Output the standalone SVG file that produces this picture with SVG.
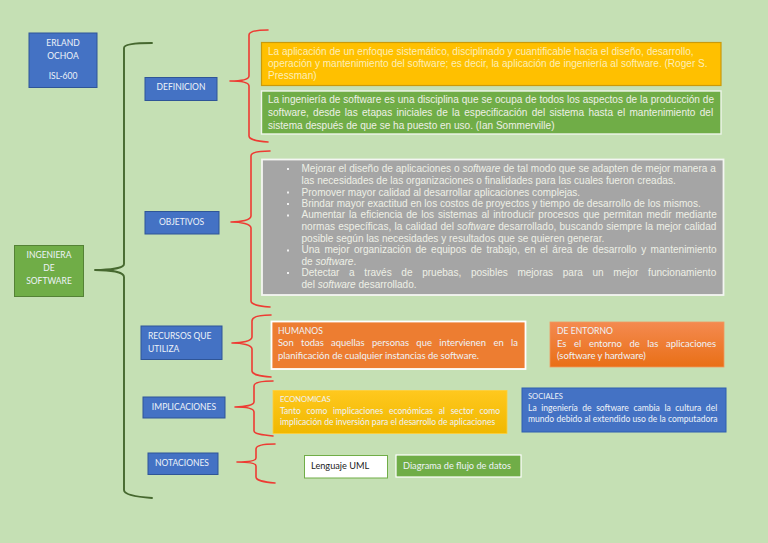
<svg xmlns="http://www.w3.org/2000/svg" width="768" height="543" viewBox="0 0 768 543">
<style>
.a{font-family:"Liberation Sans",Arial,sans-serif;font-size:10.05px;fill:#eef0e6}
.y{fill:#fdeeb8}
.l{font-family:Lato,"Open Sans",sans-serif;fill:#eef3f8}
.n{font-size:8.5px;text-anchor:middle}
.s{font-size:9.45px}
.t{font-size:8.55px}
.h{font-size:8.65px}
.k{font-size:7.6px}
.b{fill:none;stroke-width:1.6px;stroke-linecap:round;stroke-linejoin:round}
.g{stroke:#46682f;stroke-width:1.9px}
.r{stroke:#ee3b33}
.blue{fill:#4472c4;stroke:#2f5597;stroke-width:1}
.it{font-style:italic}
</style>
<defs>
<linearGradient id="go" x1="0" y1="0" x2="0" y2="1"><stop offset="0" stop-color="#f48a50"/><stop offset="1" stop-color="#e96f16"/></linearGradient>
<linearGradient id="gy" x1="0" y1="0" x2="0" y2="1"><stop offset="0" stop-color="#ffc81e"/><stop offset="1" stop-color="#f0b800"/></linearGradient>
</defs>
<rect width="768" height="543" fill="#c5e0b4"/>
<g id="connectors">
<path class="b g" d="M152 43C138 43 124 44 124 48V264C124 268 110 270 95 270C110 270 124 272 124 277V490C124 495 138 497 152 498"/>
<path class="b r" d="M268 30C258 30 249 31 249 35V76C249 80 240 81 230 81C240 81 249 82 249 86V136C249 140 258 141 268 142"/>
<path class="b r" d="M270 151C260 151 251 152 251 156V216C251 220 241 222 231 222C241 222 251 224 251 228V301C251 305 260 306 270 307"/>
<path class="b r" d="M271 315C261 315 252 316 252 321V337C252 341 242 343 232 343C242 343 252 345 252 349V371C252 375 261 376 271 377"/>
<path class="b r" d="M273 381C263 381 254 382 254 386V402C254 405 245 407 235 407C245 407 254 408 254 412V431C254 434 263 435 273 436"/>
<path class="b r" d="M275 444C265 444 256 445 256 449V458C256 461 246 462 237 462C246 462 256 463 256 466V477C256 481 265 482 275 483"/>
</g>
<g id="erland"><rect class="blue" x="29" y="33" width="68" height="54.500"/>
<text class="l n" x="63" y="45.500">ERLAND</text><text class="l n" x="63" y="59">OCHOA</text><text class="l n" x="63" y="79">ISL-600</text></g>
<g id="ingenieria"><rect x="14.500" y="245.500" width="69" height="51" fill="#70ad47" stroke="#548235"/>
<text class="l n" x="49" y="258">INGENIERA</text><text class="l n" x="49" y="271">DE</text><text class="l n" x="49" y="284">SOFTWARE</text></g>
<g id="definicion"><rect class="blue" x="145" y="77.500" width="72" height="23"/><text class="l n" x="181" y="90">DEFINICION</text></g>
<g id="objetivos"><rect class="blue" x="145" y="211.500" width="74" height="22.500"/><text class="l n" x="181.500" y="224.500">OBJETIVOS</text></g>
<g id="recursos"><rect class="blue" x="141" y="326" width="81" height="33.500"/><text class="l" font-size="8.500" x="148" y="339">RECURSOS QUE</text><text class="l" font-size="8.500" x="148" y="352">UTILIZA</text></g>
<g id="implicaciones"><rect class="blue" x="143" y="397" width="82" height="21"/><text class="l n" x="184" y="410">IMPLICACIONES</text></g>
<g id="notaciones"><rect class="blue" x="148" y="453" width="70" height="21.500"/><text class="l n" x="182" y="466">NOTACIONES</text></g>
<g id="def1"><rect x="261.500" y="42.500" width="459.500" height="43" fill="#ffc000" stroke="#c99a0c" stroke-width="1.200"/>
<text class="a y" x="268" y="54.500">La aplicación de un enfoque sistemático, disciplinado y cuantificable hacia el diseño, desarrollo,</text>
<text class="a y" x="268" y="67">operación y mantenimiento del software; es decir, la aplicación de ingeniería al software. (Roger S.</text>
<text class="a y" x="268" y="79">Pressman)</text></g>
<g id="def2"><rect x="261.500" y="91" width="459.500" height="43" fill="#70ad47" stroke="#eef5ea" stroke-width="1.400"/>
<text class="a" x="268" y="103" word-spacing="0.150">La ingeniería de software es una disciplina que se ocupa de todos los aspectos de la producción de</text>
<text class="a" x="268" y="116" word-spacing="1.550">software, desde las etapas iniciales de la especificación del sistema hasta el mantenimiento del</text>
<text class="a" x="268" y="128.500">sistema después de que se ha puesto en uso. (Ian Sommerville)</text></g>
<g id="obj"><rect x="262" y="159.500" width="461.500" height="135.500" fill="#a5a5a5" stroke="#f4f6f2" stroke-width="1.800"/>
<text class="a" x="301.500" y="172" word-spacing="0.100">Mejorar el diseño de aplicaciones o <tspan class="it">software</tspan> de tal modo que se adapten de mejor manera a</text>
<text class="a" x="301.500" y="184">las necesidades de las organizaciones o finalidades para las cuales fueron creadas.</text>
<text class="a" x="301.500" y="195.500">Promover mayor calidad al desarrollar aplicaciones complejas.</text>
<text class="a" x="301.500" y="207">Brindar mayor exactitud en los costos de proyectos y tiempo de desarrollo de los mismos.</text>
<text class="a" x="301.500" y="218" word-spacing="1.050">Aumentar la eficiencia de los sistemas al introducir procesos que permitan medir mediante</text>
<text class="a" x="301.500" y="230" word-spacing="0.400">normas específicas, la calidad del <tspan class="it">software</tspan> desarrollado, buscando siempre la mejor calidad</text>
<text class="a" x="301.500" y="242">posible según las necesidades y resultados que se quieren generar.</text>
<text class="a" x="301.500" y="253" word-spacing="1.680">Una mejor organización de equipos de trabajo, en el área de desarrollo y mantenimiento</text>
<text class="a" x="301.500" y="265">de <tspan class="it">software</tspan>.</text>
<text class="a" x="301.500" y="276" word-spacing="6.850">Detectar a través de pruebas, posibles mejoras para un mejor funcionamiento</text>
<text class="a" x="301.500" y="288">del <tspan class="it">software</tspan> desarrollado.</text>
<g fill="#f0f0f0"><rect x="287" y="168" width="2" height="2"/><rect x="287" y="191.500" width="2" height="2"/><rect x="287" y="203" width="2" height="2"/><rect x="287" y="214.500" width="2" height="2"/><rect x="287" y="249.500" width="2" height="2"/><rect x="287" y="272" width="2" height="2"/></g></g>
<g id="humanos"><rect x="271.500" y="321.500" width="254" height="47.500" fill="#ed7d31" stroke="#fff" stroke-width="1.800"/>
<text class="l h" x="278" y="334">HUMANOS</text><text class="l s" x="278" y="346" word-spacing="4.900">Son todas aquellas personas que intervienen en la</text><text class="l s" x="278" y="359">planificación de cualquier instancias de software.</text></g>
<g id="entorno"><rect x="550" y="322" width="174" height="45" fill="url(#go)" stroke="#f09a60" stroke-width=".8"/>
<text class="l h" x="557" y="334">DE ENTORNO</text><text class="l s" x="557" y="347" word-spacing="5.200">Es el entorno de las aplicaciones</text><text class="l s" x="557" y="359">(software y hardware)</text></g>
<g id="economicas"><rect x="273" y="390.500" width="234" height="43" fill="url(#gy)" stroke="#ffcf3a" stroke-width=".8"/>
<text class="l k" x="280" y="402">ECONOMICAS</text><text class="l t" x="280" y="413.500" word-spacing="3.500">Tanto como implicaciones económicas al sector como</text><text class="l t" x="280" y="424.500">implicación de inversión para el desarrollo de aplicaciones</text></g>
<g id="sociales"><rect x="522" y="388" width="204" height="44" fill="#4472c4" stroke="#2f5fb0"/>
<text class="l k" x="528" y="399">SOCIALES</text><text class="l t" x="528" y="411" word-spacing="2.400">La ingeniería de software cambia la cultura del</text><text class="l t" x="528" y="422">mundo debido al extendido uso de la computadora</text></g>
<g id="uml"><rect x="304.500" y="455.500" width="83" height="22.500" fill="#fff" stroke="#70ad47"/><text x="311" y="469" font-family="Lato,sans-serif" font-size="9.200" fill="#222">Lenguaje UML</text></g>
<g id="flujo"><rect x="396" y="455" width="125" height="22" fill="#70ad47" stroke="#fff" stroke-width="1.200"/><text class="l" font-size="9.200" x="403" y="469">Diagrama de flujo de datos</text></g>
</svg>
